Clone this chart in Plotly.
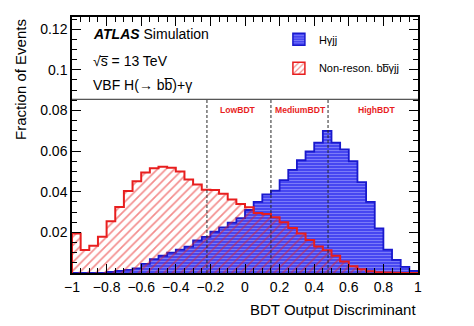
import numpy as np
import plotly.graph_objects as go

# ---------------- data ----------------
bin_low, bin_high, n_bins = -1.0, 1.0, 40

# H gamma jj (signal), fraction of events per bin
signal = [0.0, 0.0, 0.0, 0.0, 0.0005, 0.0010, 0.0015, 0.0023, 0.0045, 0.0068,
          0.0085, 0.0100, 0.0115, 0.0130, 0.0160, 0.0178, 0.0203, 0.0225, 0.0248, 0.0270,
          0.0310, 0.0350, 0.0387, 0.0405, 0.0457, 0.0508, 0.0555, 0.0598, 0.0642, 0.0700,
          0.0642, 0.0608, 0.0550, 0.0447, 0.0350, 0.0220, 0.0115, 0.0065, 0.0030, 0.0010]

# Non-resonant bb gamma jj (background)
background = [0.0195, 0.0113, 0.0134, 0.0178, 0.0255, 0.0325, 0.0404, 0.0452, 0.0495, 0.0515,
              0.0523, 0.0518, 0.0500, 0.0460, 0.0435, 0.0410, 0.0408, 0.0390, 0.0362, 0.0340,
              0.0323, 0.0295, 0.0290, 0.0275, 0.0250, 0.0222, 0.0195, 0.0163, 0.0130, 0.0112,
              0.0085, 0.0056, 0.0033, 0.0018, 0.0009, 0.0004, 0.0002, 0.0001, 0.0, 0.0]

cut_values = [-0.22, 0.15, 0.48]
region_labels = ["LowBDT", "MediumBDT", "HighBDT"]
region_label_x = [-0.04, 0.32, 0.765]
region_label_y = 0.080
separator_level = 0.0855

x_tick_vals = [-1, -0.8, -0.6, -0.4, -0.2, 0, 0.2, 0.4, 0.6, 0.8, 1]
x_tick_text = ["\u22121", "\u22120.8", "\u22120.6", "\u22120.4", "\u22120.2", "0",
               "0.2", "0.4", "0.6", "0.8", "1"]
y_tick_vals = [0, 0.02, 0.04, 0.06, 0.08, 0.1, 0.12]
y_tick_text = ["", "0.02", "0.04", "0.06", "0.08", "0.1", "0.12"]

FONT = "Liberation Sans, Arial, Helvetica, sans-serif"
BLUE_LINE = "rgb(25,25,205)"
BLUE_BG = "rgb(60,60,240)"
BLUE_FG = "rgb(185,185,255)"
RED = "rgb(232,30,30)"

edges = np.linspace(bin_low, bin_high, n_bins + 1)


def step_xy(values):
    xs = [edges[0]] + list(edges[:-1]) + [edges[-1], edges[-1]]
    ys = [0.0] + list(values) + [values[-1], 0.0]
    return xs, ys


fig = go.Figure()

sx, sy = step_xy(signal)
fig.add_trace(go.Scatter(
    x=sx, y=sy, mode="lines", showlegend=False, hoverinfo="skip",
    line=dict(color=BLUE_LINE, width=1.8, shape="hv"),
    fill="tozeroy", fillcolor=BLUE_BG,
    fillpattern=dict(shape="-", fgcolor=BLUE_FG, bgcolor=BLUE_BG, size=3, solidity=0.45),
))

bx, by = step_xy(background)
fig.add_trace(go.Scatter(
    x=bx, y=by, mode="lines", showlegend=False, hoverinfo="skip",
    line=dict(color=RED, width=2, shape="hv"),
    fill="tozeroy", fillcolor="rgba(0,0,0,0)",
    fillpattern=dict(shape="/", fgcolor=RED, bgcolor="rgba(255,255,255,0)", size=6, solidity=0.28),
))

# legend entries
fig.add_trace(go.Bar(
    x=[None], y=[None], name="H\u03b3jj", legend="legend",
    marker=dict(color=BLUE_BG, line=dict(color=BLUE_LINE, width=1.5),
                pattern=dict(shape="-", fgcolor=BLUE_FG, bgcolor=BLUE_BG, size=3, solidity=0.45)),
))
fig.add_trace(go.Bar(
    x=[None], y=[None], name="Non-reson. bb\u0305\u03b3jj", legend="legend2",
    marker=dict(color="white", line=dict(color=RED, width=1.5),
                pattern=dict(shape="/", fgcolor=RED, bgcolor="white", size=5, solidity=0.3)),
))

shapes = []
for c in cut_values:
    shapes.append(dict(type="line", xref="x", yref="y", x0=c, x1=c, y0=0, y1=separator_level,
                       line=dict(color="rgb(40,40,40)", width=1, dash="3px,2px")))
shapes.append(dict(type="line", xref="paper", yref="y", x0=0, x1=1, y0=separator_level,
                   y1=separator_level, line=dict(color="rgb(40,40,40)", width=1)))

annotations = []
for lab, lx in zip(region_labels, region_label_x):
    annotations.append(dict(text="<b>%s</b>" % lab, x=lx, y=region_label_y, xref="x", yref="y",
                            showarrow=False, font=dict(family=FONT, size=8.6, color=RED)))

annotations += [
    dict(text="<b><i>ATLAS</i></b> Simulation", x=0.0556, y=0.9325, xref="paper", yref="paper",
         xanchor="left", yanchor="middle", showarrow=False, font=dict(family=FONT, size=14, color="black")),
    dict(text="\u221as\u0305 = 13 TeV", x=0.0556, y=0.827, xref="paper", yref="paper",
         xanchor="left", yanchor="middle", showarrow=False, font=dict(family=FONT, size=14, color="black")),
    dict(text="VBF H(\u2192 bb\u0305)+\u03b3", x=0.0556, y=0.733, xref="paper", yref="paper",
         xanchor="left", yanchor="middle", showarrow=False, font=dict(family=FONT, size=14, color="black")),
    dict(text="BDT Output Discriminant", x=1.0, y=-0.144, xref="paper", yref="paper",
         xanchor="right", yanchor="middle", showarrow=False, font=dict(family=FONT, size=15, color="black")),
    dict(text="Fraction of Events", x=-0.149, y=1.0, xref="paper", yref="paper", textangle=-90,
         xanchor="center", yanchor="top", showarrow=False, font=dict(family=FONT, size=15, color="black")),
]

fig.update_layout(
    width=474, height=326,
    margin=dict(l=72, r=56, t=17, b=53),
    paper_bgcolor="white", plot_bgcolor="white",
    font=dict(family=FONT, size=14, color="black"),
    shapes=shapes, annotations=annotations,
    hovermode=False,
    legend=dict(x=0.598, y=0.913, xanchor="left", yanchor="middle", bgcolor="rgba(0,0,0,0)",
                font=dict(family=FONT, size=11, color="black")),
    legend2=dict(x=0.598, y=0.80, xanchor="left", yanchor="middle", bgcolor="rgba(0,0,0,0)",
                 font=dict(family=FONT, size=11, color="black")),
)

fig.update_xaxes(
    range=[bin_low, bin_high], tickvals=x_tick_vals, ticktext=x_tick_text,
    ticks="inside", ticklen=9, tickwidth=1, tickcolor="black",
    showline=True, linecolor="black", linewidth=1.5, mirror="allticks",
    showgrid=False, zeroline=False,
    minor=dict(ticks="inside", ticklen=5, dtick=0.05, tick0=-1, tickcolor="black", showgrid=False),
    tickfont=dict(family=FONT, size=14, color="black"),
)
fig.update_yaxes(
    range=[0, 0.126], tickvals=y_tick_vals, ticktext=y_tick_text,
    ticks="inside", ticklen=9, tickwidth=1, tickcolor="black",
    showline=True, linecolor="black", linewidth=1.5, mirror="allticks",
    showgrid=False, zeroline=False,
    minor=dict(ticks="inside", ticklen=5, dtick=0.005, tick0=0, tickcolor="black", showgrid=False),
    tickfont=dict(family=FONT, size=14, color="black"),
)

fig.write_html("out.html")
